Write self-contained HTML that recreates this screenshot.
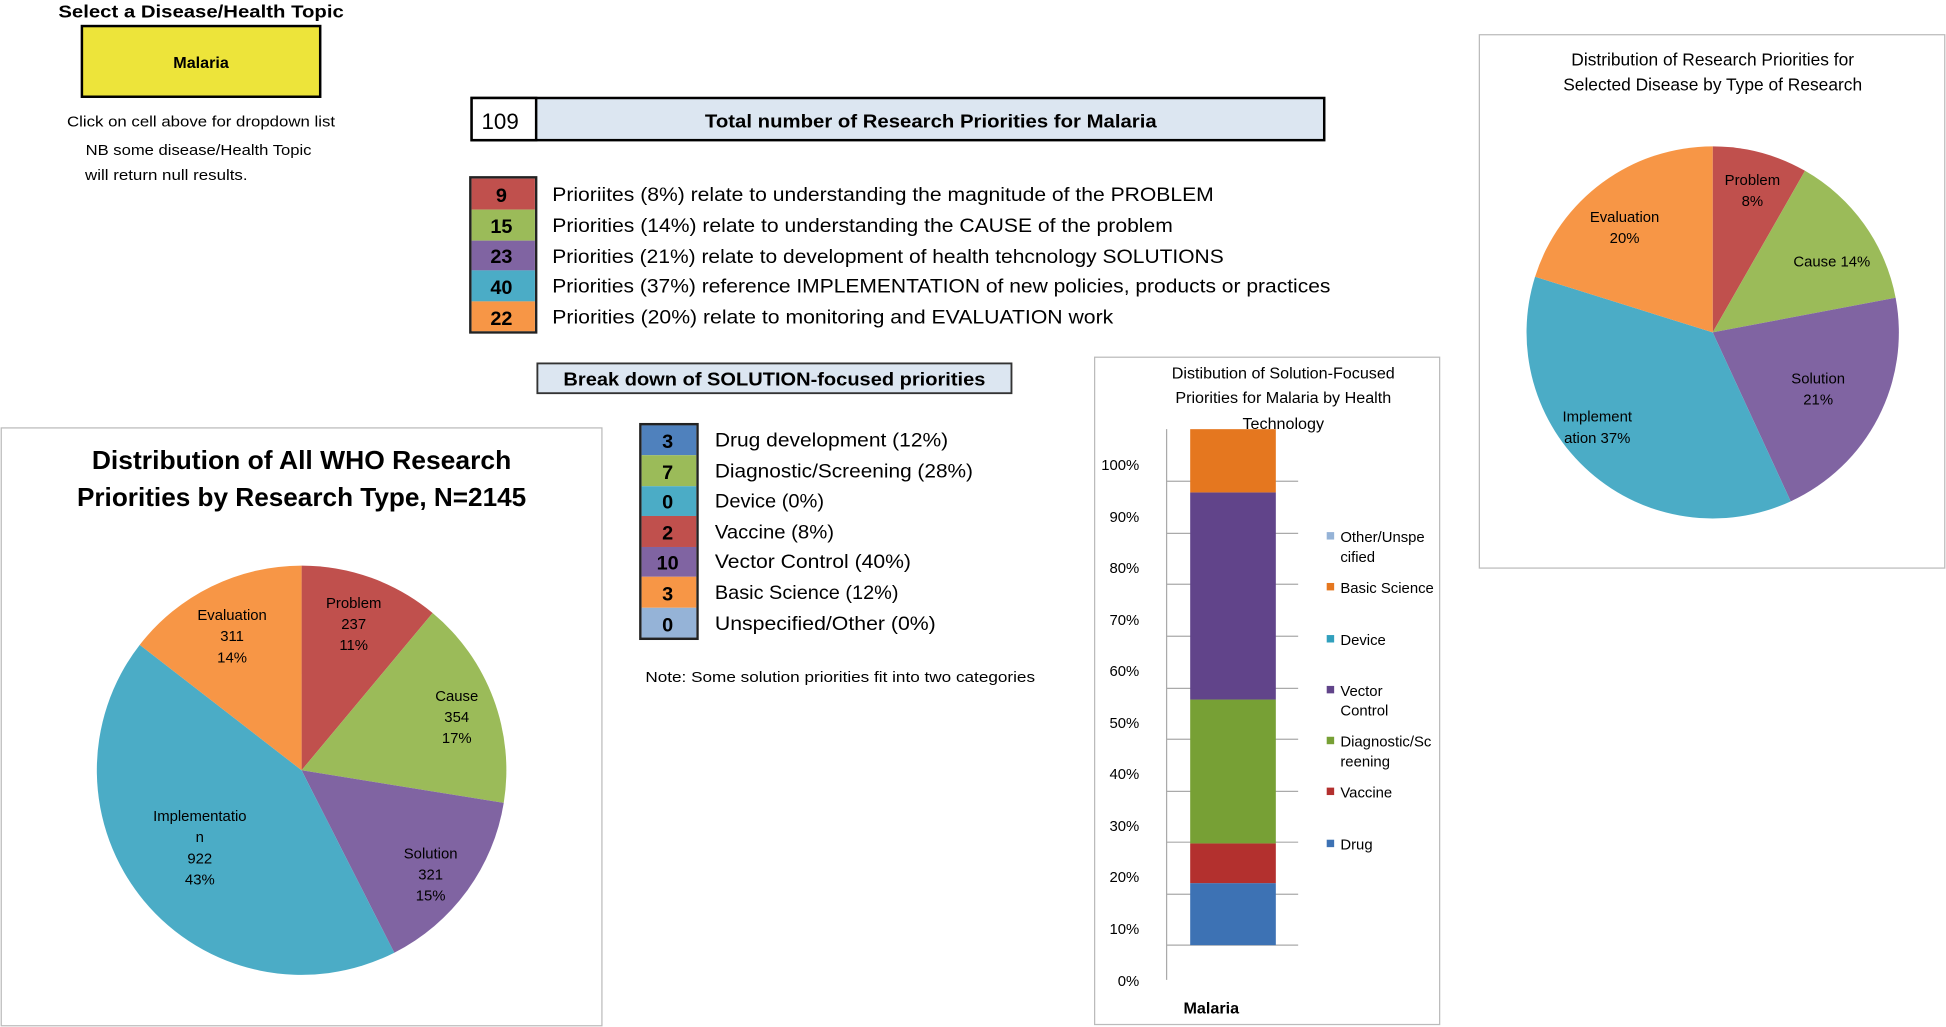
<!DOCTYPE html>
<html><head><meta charset="utf-8"><style>
html,body{margin:0;padding:0;background:#fff;overflow:hidden}
svg{display:block}
text{font-family:"Liberation Sans",sans-serif;fill:#000}
</style></head><body>
<svg width="1946" height="1027" viewBox="0 0 1568 828" preserveAspectRatio="none" xmlns="http://www.w3.org/2000/svg">
<!-- top-left -->
<text x="162" y="14" font-size="14" font-weight="bold" text-anchor="middle" textLength="230" lengthAdjust="spacingAndGlyphs">Select a Disease/Health Topic</text>
<rect x="66" y="21" width="192" height="57" fill="#EDE43A" stroke="#000" stroke-width="2"/>
<text x="162" y="55" font-size="13" font-weight="bold" text-anchor="middle">Malaria</text>
<text x="162" y="102" font-size="12" text-anchor="middle" textLength="216" lengthAdjust="spacingAndGlyphs">Click on cell above for dropdown list</text>
<text x="160" y="125" font-size="12" text-anchor="middle" textLength="182" lengthAdjust="spacingAndGlyphs">NB some disease/Health Topic</text>
<text x="134" y="145" font-size="12" text-anchor="middle" textLength="131" lengthAdjust="spacingAndGlyphs">will return null results.</text>

<!-- total box -->
<rect x="380" y="79" width="687" height="34" fill="#DCE6F1" stroke="#000" stroke-width="2"/>
<rect x="380" y="79" width="52" height="34" fill="#fff" stroke="#000" stroke-width="2"/>
<text x="403" y="104" font-size="18" text-anchor="middle">109</text>
<text x="750" y="103" font-size="15" font-weight="bold" text-anchor="middle" textLength="364" lengthAdjust="spacingAndGlyphs">Total number of Research Priorities for Malaria</text>

<!-- priorities -->
<rect x="379" y="143" width="53" height="125" fill="none" stroke="#222" stroke-width="2"/>
<rect x="380" y="144" width="51" height="25" fill="#C0504D"/>
<rect x="380" y="169" width="51" height="25" fill="#9BBB59"/>
<rect x="380" y="194" width="51" height="24" fill="#8064A2"/>
<rect x="380" y="218" width="51" height="25" fill="#4BACC6"/>
<rect x="380" y="243" width="51" height="24" fill="#F79646"/>
<g font-size="16" font-weight="bold" text-anchor="middle">
<text x="404" y="163">9</text><text x="404" y="188">15</text><text x="404" y="212">23</text><text x="404" y="237">40</text><text x="404" y="262">22</text></g>
<g font-size="16">
<text x="445" y="162" textLength="533" lengthAdjust="spacingAndGlyphs">Prioriites (8%) relate to understanding the magnitude of the PROBLEM</text>
<text x="445" y="187" textLength="500" lengthAdjust="spacingAndGlyphs">Priorities (14%) relate to understanding the CAUSE of the problem</text>
<text x="445" y="212" textLength="541" lengthAdjust="spacingAndGlyphs">Priorities (21%) relate to development of health tehcnology SOLUTIONS</text>
<text x="445" y="236" textLength="627" lengthAdjust="spacingAndGlyphs">Priorities (37%) reference IMPLEMENTATION of new policies, products or practices</text>
<text x="445" y="261" textLength="452" lengthAdjust="spacingAndGlyphs">Priorities (20%) relate to monitoring and EVALUATION work</text>
</g>

<!-- breakdown -->
<rect x="433" y="293" width="382" height="24" fill="#DCE6F1" stroke="#333" stroke-width="1.5"/>
<text x="624" y="311" font-size="15" font-weight="bold" text-anchor="middle" textLength="340" lengthAdjust="spacingAndGlyphs">Break down of SOLUTION-focused priorities</text>
<rect x="516" y="342" width="46" height="173" fill="none" stroke="#222" stroke-width="2"/>
<rect x="517" y="343" width="44" height="24" fill="#4F81BD"/>
<rect x="517" y="367" width="44" height="25" fill="#9BBB59"/>
<rect x="517" y="392" width="44" height="24" fill="#4BACC6"/>
<rect x="517" y="416" width="44" height="25" fill="#C0504D"/>
<rect x="517" y="441" width="44" height="24" fill="#8064A2"/>
<rect x="517" y="465" width="44" height="25" fill="#F79646"/>
<rect x="517" y="490" width="44" height="24" fill="#95B3D7"/>
<g font-size="16" font-weight="bold" text-anchor="middle">
<text x="538" y="361">3</text><text x="538" y="386">7</text><text x="538" y="410">0</text><text x="538" y="435">2</text><text x="538" y="459">10</text><text x="538" y="484">3</text><text x="538" y="509">0</text></g>
<g font-size="16">
<text x="576" y="360" textLength="188" lengthAdjust="spacingAndGlyphs">Drug development (12%)</text>
<text x="576" y="385" textLength="208" lengthAdjust="spacingAndGlyphs">Diagnostic/Screening (28%)</text>
<text x="576" y="409" textLength="88" lengthAdjust="spacingAndGlyphs">Device (0%)</text>
<text x="576" y="434" textLength="96" lengthAdjust="spacingAndGlyphs">Vaccine (8%)</text>
<text x="576" y="458" textLength="158" lengthAdjust="spacingAndGlyphs">Vector Control (40%)</text>
<text x="576" y="483" textLength="148" lengthAdjust="spacingAndGlyphs">Basic Science (12%)</text>
<text x="576" y="508" textLength="178" lengthAdjust="spacingAndGlyphs">Unspecified/Other (0%)</text>
</g>
<text x="520" y="550" font-size="12" textLength="314" lengthAdjust="spacingAndGlyphs">Note: Some solution priorities fit into two categories</text>

<!-- left pie chart -->
<rect x="1" y="345" width="484" height="482" fill="#fff" stroke="#bbb" stroke-width="1"/>
<text x="243" y="378" font-size="21" font-weight="bold" text-anchor="middle" textLength="338" lengthAdjust="spacingAndGlyphs">Distribution of All WHO Research</text>
<text x="243" y="408" font-size="21" font-weight="bold" text-anchor="middle" textLength="362" lengthAdjust="spacingAndGlyphs">Priorities by Research Type, N=2145</text>
<g>
<path d="M243,621 L243,456 A165,165 0 0 1 348.6,494.2 Z" fill="#C0504D"/>
<path d="M243,621 L348.6,494.2 A165,165 0 0 1 405.9,647.3 Z" fill="#9BBB59"/>
<path d="M243,621 L405.9,647.3 A165,165 0 0 1 317.7,768.1 Z" fill="#8064A2"/>
<path d="M243,621 L317.7,768.1 A165,165 0 0 1 112.6,519.9 Z" fill="#4BACC6"/>
<path d="M243,621 L112.6,519.9 A165,165 0 0 1 243,456 Z" fill="#F79646"/>
</g>
<g font-size="12" text-anchor="middle">
<text x="285" y="490">Problem</text><text x="285" y="507">237</text><text x="285" y="524">11%</text>
<text x="187" y="500">Evaluation</text><text x="187" y="517">311</text><text x="187" y="534">14%</text>
<text x="368" y="565">Cause</text><text x="368" y="582">354</text><text x="368" y="599">17%</text>
<text x="347" y="692">Solution</text><text x="347" y="709">321</text><text x="347" y="726">15%</text>
<text x="161" y="662">Implementatio</text><text x="161" y="679">n</text><text x="161" y="696">922</text><text x="161" y="713">43%</text>
</g>

<!-- bar chart -->
<rect x="882" y="288" width="278" height="538" fill="#fff" stroke="#bbb" stroke-width="1"/>
<g font-size="13" text-anchor="middle">
<text x="1034" y="305">Distibution of Solution-Focused</text>
<text x="1034" y="325">Priorities for Malaria by Health</text>
<text x="1034" y="346">Technology</text></g>
<g stroke="#aaa" stroke-width="1">
<line x1="940" y1="346" x2="940" y2="790"/>
<line x1="940" y1="388" x2="1046" y2="388"/><line x1="940" y1="430" x2="1046" y2="430"/>
<line x1="940" y1="471" x2="1046" y2="471"/><line x1="940" y1="513" x2="1046" y2="513"/>
<line x1="940" y1="555" x2="1046" y2="555"/><line x1="940" y1="596" x2="1046" y2="596"/>
<line x1="940" y1="638" x2="1046" y2="638"/><line x1="940" y1="679" x2="1046" y2="679"/>
<line x1="940" y1="721" x2="1046" y2="721"/><line x1="940" y1="762" x2="1046" y2="762"/>
</g>
<rect x="959" y="712" width="69" height="50" fill="#3D72B4"/>
<rect x="959" y="680" width="69" height="32" fill="#B3302E"/>
<rect x="959" y="564" width="69" height="116" fill="#77A035"/>
<rect x="959" y="397" width="69" height="167" fill="#61448A"/>
<rect x="959" y="346" width="69" height="51" fill="#E5771F"/>
<g font-size="12" text-anchor="end">
<text x="918" y="379">100%</text><text x="918" y="421">90%</text><text x="918" y="462">80%</text>
<text x="918" y="504">70%</text><text x="918" y="545">60%</text><text x="918" y="587">50%</text>
<text x="918" y="628">40%</text><text x="918" y="670">30%</text><text x="918" y="711">20%</text>
<text x="918" y="753">10%</text><text x="918" y="795">0%</text></g>
<text x="976" y="817" font-size="13" font-weight="bold" text-anchor="middle">Malaria</text>
<g font-size="12">
<rect x="1069" y="429" width="6" height="6" fill="#95B3D7"/><text x="1080" y="437">Other/Unspe</text><text x="1080" y="453">cified</text>
<rect x="1069" y="470" width="6" height="6" fill="#E5771F"/><text x="1080" y="478">Basic Science</text>
<rect x="1069" y="512" width="6" height="6" fill="#31A0BD"/><text x="1080" y="520">Device</text>
<rect x="1069" y="553" width="6" height="6" fill="#61448A"/><text x="1080" y="561">Vector</text><text x="1080" y="577">Control</text>
<rect x="1069" y="594" width="6" height="6" fill="#77A035"/><text x="1080" y="602">Diagnostic/Sc</text><text x="1080" y="618">reening</text>
<rect x="1069" y="635" width="6" height="6" fill="#B3302E"/><text x="1080" y="643">Vaccine</text>
<rect x="1069" y="677" width="6" height="6" fill="#3D72B4"/><text x="1080" y="685">Drug</text>
</g>

<!-- right pie chart -->
<rect x="1192" y="28" width="375" height="430" fill="#fff" stroke="#bbb" stroke-width="1"/>
<g font-size="14" text-anchor="middle">
<text x="1380" y="53">Distribution of Research Priorities for</text>
<text x="1380" y="73">Selected Disease by Type of Research</text></g>
<path d="M1380,268 L1380,118 A150,150 0 0 1 1454.4,137.7 Z" fill="#C0504D"/>
<path d="M1380,268 L1454.4,137.7 A150,150 0 0 1 1527.4,240.1 Z" fill="#9BBB59"/>
<path d="M1380,268 L1527.4,240.1 A150,150 0 0 1 1442.9,404.2 Z" fill="#8064A2"/>
<path d="M1380,268 L1442.9,404.2 A150,150 0 0 1 1236.9,223.1 Z" fill="#4BACC6"/>
<path d="M1380,268 L1236.9,223.1 A150,150 0 0 1 1380,118 Z" fill="#F79646"/>
<g font-size="12" text-anchor="middle">
<text x="1412" y="149">Problem</text><text x="1412" y="166">8%</text>
<text x="1309" y="179">Evaluation</text><text x="1309" y="196">20%</text>
<text x="1476" y="215">Cause 14%</text>
<text x="1465" y="309">Solution</text><text x="1465" y="326">21%</text>
<text x="1287" y="340">Implement</text><text x="1287" y="357">ation 37%</text>
</g>
</svg>
</body></html>
